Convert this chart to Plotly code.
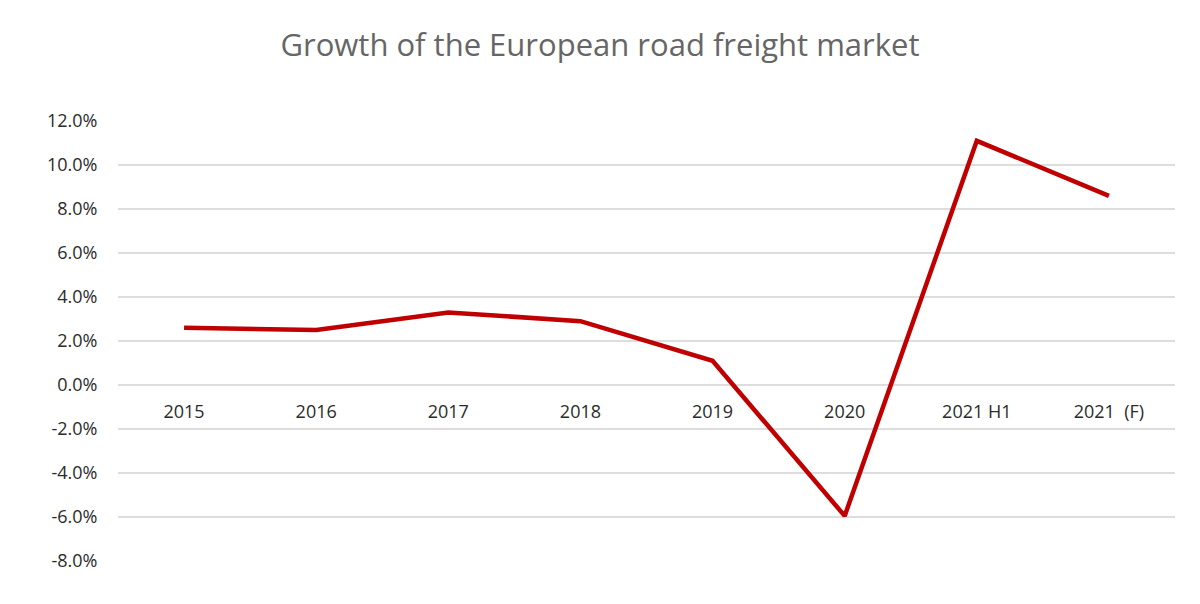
import plotly.graph_objects as go

categories = ["2015", "2016", "2017", "2018", "2019", "2020", "2021 H1", "2021  (F)"]
growth_pct = [2.6, 2.5, 3.3, 2.9, 1.1, -5.95, 11.1, 8.6]
y_ticks = [-8, -6, -4, -2, 0, 2, 4, 6, 8, 10, 12]
y_tick_labels = [f"{v:.1f}%" for v in y_ticks]

y_min, y_max = -8, 12

fig = go.Figure()
fig.add_trace(go.Scatter(
    x=categories, y=growth_pct, mode="lines",
    line=dict(color="#C00000", width=4.5),
    hoverinfo="x+y",
))

fig.update_layout(
    width=1200, height=604,
    paper_bgcolor="white", plot_bgcolor="white",
    margin=dict(l=118, r=25, t=121, b=43),
    showlegend=False,
    title=dict(
        text="Growth of the European road freight market",
        x=0.5, xanchor="center", y=1 - 45 / 604, yanchor="middle",
        font=dict(family="Open Sans", size=31, color="#666666"),
    ),
    xaxis=dict(
        type="category",
        anchor="free",
        position=(0 - y_min) / (y_max - y_min),
        showline=False, showgrid=False, zeroline=False,
        ticks="outside", ticklen=10, tickcolor="rgba(0,0,0,0)",
        tickfont=dict(family="Open Sans", size=18, color="#2b2b2b"),
        range=[-0.5, len(categories) - 0.5],
    ),
    yaxis=dict(
        range=[y_min, y_max],
        tickvals=y_ticks, ticktext=y_tick_labels,
        showgrid=True, gridcolor="#DDDDDD", gridwidth=2,
        zeroline=True, zerolinecolor="#DDDDDD", zerolinewidth=2,
        showline=False,
        ticks="outside", ticklen=16, tickcolor="rgba(0,0,0,0)",
        tickfont=dict(family="Open Sans", size=18, color="#2b2b2b"),
    ),
)

fig.write_html("out.html")
